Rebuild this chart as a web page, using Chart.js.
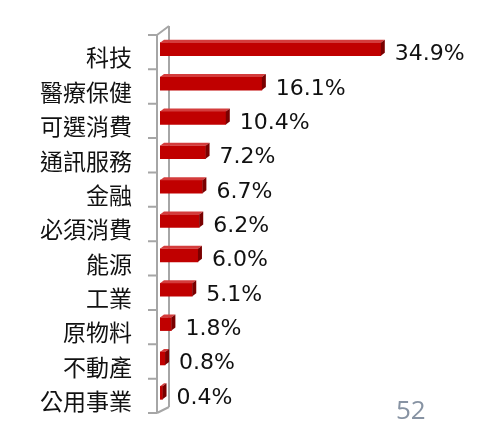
<!DOCTYPE html>
<html>
<head>
<meta charset="utf-8">
<script src="https://cdn.jsdelivr.net/npm/chart.js@4"></script>
<style>
  html, body { margin: 0; padding: 0; background: #fff; }
  #wrap { position: relative; width: 480px; height: 427px; }
</style>
</head>
<body>
<div id="wrap"><canvas id="sector_chart"></canvas></div>
<script>
// sector weights (%)
const sectors = ['科技', '醫療保健', '可選消費', '通訊服務', '金融', '必須消費', '能源', '工業', '原物料', '不動產', '公用事業'];
const weights = [34.9, 16.1, 10.4, 7.2, 6.7, 6.2, 6.0, 5.1, 1.8, 0.8, 0.4];
const pageNumber = '52';

const DX = 4, DY = 3, LIFT = 3;   // fake 3d depth

const bar3d = {
    id: 'bar3d',
    beforeDatasetsDraw(chart) {
        const ctx = chart.ctx;
        const area = chart.chartArea;
        const yScale = chart.scales.y;
        const front = area.left - 3, back = area.left + 9;

        // 3d axis wall
        ctx.save();
        ctx.strokeStyle = '#a6a6a6';
        ctx.lineWidth = 2;
        ctx.beginPath();
        ctx.moveTo(front, area.top);
        ctx.lineTo(front, area.bottom);
        ctx.moveTo(back, area.top - 9);
        ctx.lineTo(back, area.bottom - 6);
        ctx.moveTo(front, area.top);
        ctx.lineTo(back, area.top - 9);
        ctx.moveTo(front, area.bottom);
        ctx.lineTo(back, area.bottom - 6);
        // tick marks between categories
        const n = sectors.length;
        for (let i = 0; i <= n; i++) {
            let y;
            if (i == 0) y = area.top;
            else if (i == n) y = area.bottom;
            else y = (yScale.getPixelForValue(i - 1) + yScale.getPixelForValue(i)) / 2;
            ctx.moveTo(front - 9, y);
            ctx.lineTo(front, y);
        }
        ctx.stroke();
        ctx.restore();

        ctx.save();
        ctx.translate(0, -LIFT);
    },
    afterDatasetsDraw(chart) {
        const ctx = chart.ctx;
        const meta = chart.getDatasetMeta(0);

        meta.data.forEach(function(bar) {
            const p = bar.getProps(['x', 'y', 'base', 'height'], true);
            const top = p.y - p.height / 2, bottom = p.y + p.height / 2;
            // top face
            ctx.fillStyle = '#d43c3c';
            ctx.beginPath();
            ctx.moveTo(p.base, top);
            ctx.lineTo(p.x, top);
            ctx.lineTo(p.x + DX, top - DY);
            ctx.lineTo(p.base + DX, top - DY);
            ctx.closePath();
            ctx.fill();
            // side face
            ctx.fillStyle = '#7a0000';
            ctx.beginPath();
            ctx.moveTo(p.x, top);
            ctx.lineTo(p.x + DX, top - DY);
            ctx.lineTo(p.x + DX, bottom - DY);
            ctx.lineTo(p.x, bottom);
            ctx.closePath();
            ctx.fill();
        });
        ctx.restore();

        // value labels
        ctx.save();
        ctx.font = '22px "DejaVu Sans"';
        ctx.fillStyle = '#111';
        ctx.textAlign = 'left';
        ctx.textBaseline = 'alphabetic';
        meta.data.forEach(function(bar, i) {
            const p = bar.getProps(['x', 'y'], true);
            ctx.fillText(weights[i].toFixed(1) + '%', p.x + 14, p.y + 8);
        });
        ctx.restore();
    },
    afterDraw(chart) {
        const ctx = chart.ctx;
        ctx.save();
        ctx.font = '26px "Open Sans"';
        ctx.fillStyle = '#8793a3';
        ctx.textBaseline = 'alphabetic';
        ctx.fillText(pageNumber, 396, 419);
        ctx.restore();
    }
};

let chart = new Chart('sector_chart', {
    type: 'bar',
    data: {
        labels: sectors,
        datasets: [{
            data: weights,
            backgroundColor: '#c00000',
            borderWidth: 0,
            barThickness: 13
        }]
    },
    options: {
        indexAxis: 'y',
        responsive: true,
        maintainAspectRatio: false,
        animation: false,
        layout: { padding: { top: 35, bottom: 14, right: 10, left: 0 } },
        plugins: {
            legend: { display: false },
            tooltip: { enabled: false }
        },
        scales: {
            x: {
                display: false,
                min: 0,
                max: 49
            },
            y: {
                grid: { display: false, drawTicks: false },
                border: { display: false },
                ticks: {
                    padding: 28,
                    labelOffset: 5.5,
                    color: '#111',
                    font: { family: '"Noto Sans CJK TC", "Noto Sans CJK SC"', size: 23 }
                },
                afterFit(scale) {
                    scale.width = 160;
                    scale.paddingTop = 0;
                    scale.paddingBottom = 0;
                }
            }
        }
    },
    plugins: [bar3d]
});
</script>
</body>
</html>
